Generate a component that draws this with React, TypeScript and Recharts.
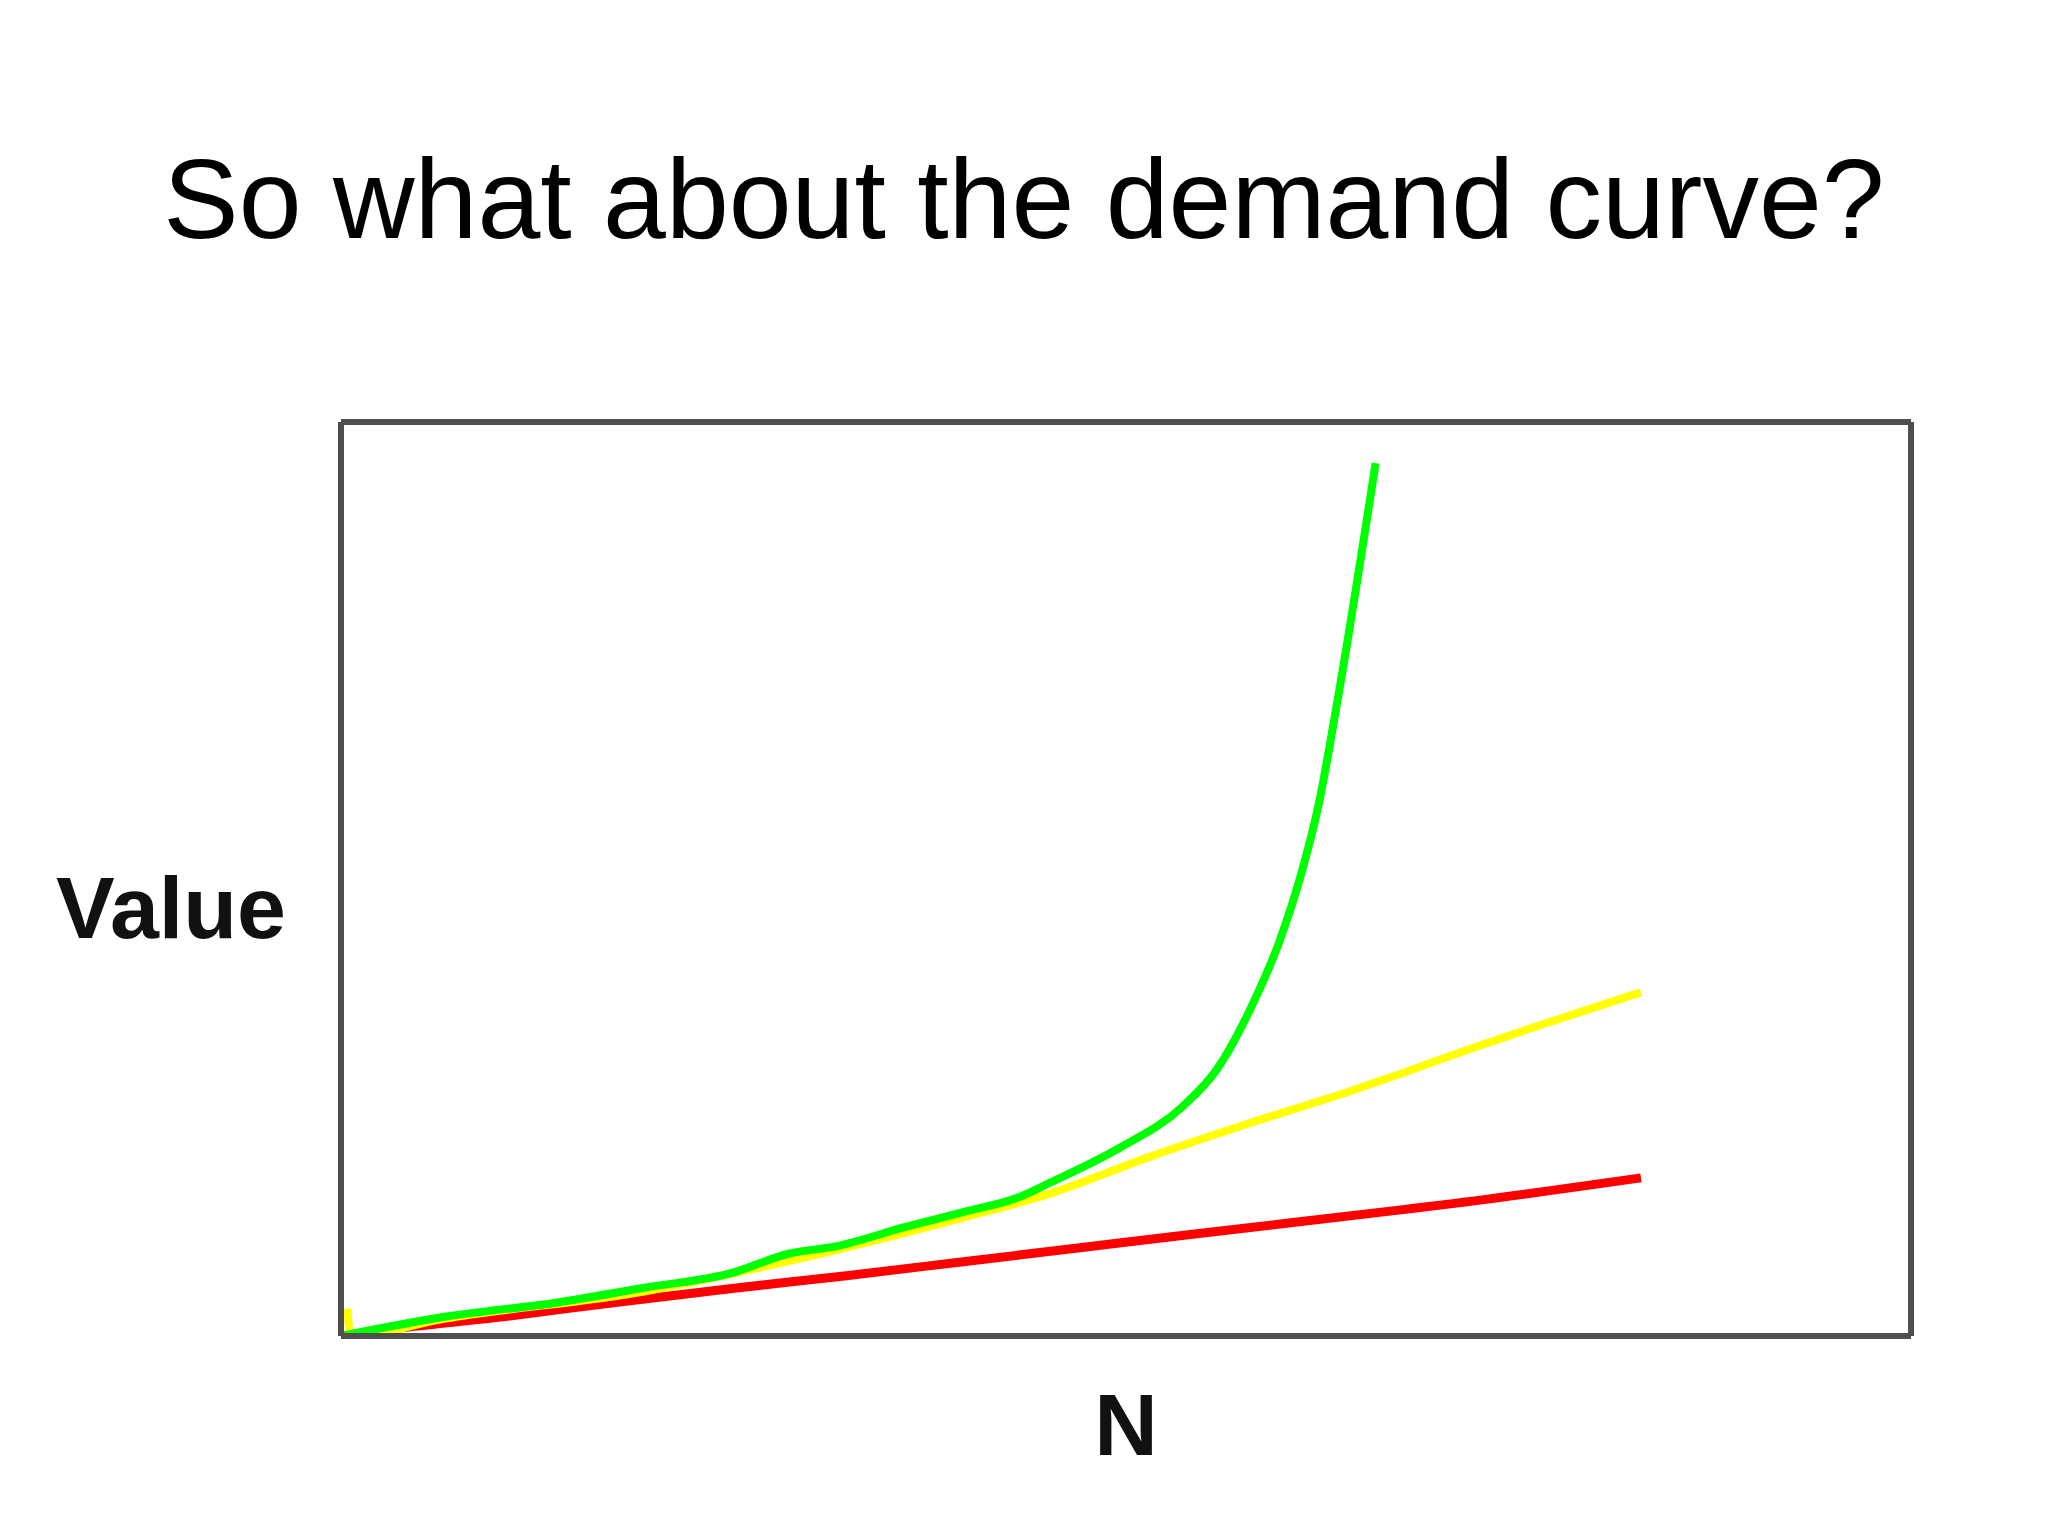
import { LineChart, Line, XAxis, YAxis, Label } from 'recharts';

const titleText = 'So what about the demand curve?';
const yLabelText = 'Value';
const xLabelText = 'N';

// green curve: takes off steeply
const greenN = [0, 6.6, 13.9, 19.4, 24.9, 28.5, 31.5, 35.9, 39.5, 43.2, 45.2, 49.4, 53.6, 55.8, 57.9, 59.8, 61.2, 62.3, 63.4, 65.9];
const greenValue = [0, 2.1, 3.7, 5.3, 6.9, 9.0, 9.8, 11.9, 13.5, 15.2, 16.8, 20.4, 25.1, 29.2, 35.7, 43.3, 50.8, 58.4, 68.8, 95.5];

// yellow curve: follows green, then straight
const yellowN = [0.4, 0.6, 6.6, 19.4, 31.5, 39.5, 45.2, 51.5, 57.9, 64.3, 67.5, 70.4, 82.8];
const yellowValue = [3.0, 0, 1.9, 4.9, 9.4, 12.9, 15.6, 19.6, 23.3, 26.8, 28.7, 30.5, 37.6];

// red curve: slow, almost linear
const redN = [0, 2.9, 10.3, 17.6, 24.9, 32.2, 39.5, 46.8, 54.1, 67.5, 70.4, 82.8];
const redValue = [0, 0.7, 2.1, 3.7, 5.2, 6.6, 8.1, 9.6, 11.1, 13.8, 14.4, 17.3];

const toRows = (xs: number[], ys: number[]) => xs.map((n, i) => ({ n, value: ys[i] }));

const greenData = toRows(greenN, greenValue);
const yellowData = toRows(yellowN, yellowValue);
const redData = toRows(redN, redValue);

const frame = '#4f4f4f';
const font = '"Liberation Sans", Arial, Helvetica, sans-serif';

function TitleLabel(props: any) {
  const { viewBox } = props;
  return (
    <text x={1024} y={viewBox.y - 183} textAnchor="middle" fontFamily={font} fontSize={113} fill="#000">
      {titleText}
    </text>
  );
}

function ValueLabel(props: any) {
  const { viewBox } = props;
  return (
    <text
      x={viewBox.x - 54}
      y={viewBox.y + viewBox.height / 2 + 59}
      textAnchor="end"
      fontFamily={font}
      fontWeight="bold"
      fontSize={88}
      fill="#111"
    >
      {yLabelText}
    </text>
  );
}

function NLabel(props: any) {
  const { viewBox } = props;
  return (
    <text
      x={viewBox.x + viewBox.width / 2}
      y={viewBox.y + 119}
      textAnchor="middle"
      fontFamily={font}
      fontWeight="bold"
      fontSize={88}
      fill="#111"
    >
      {xLabelText}
    </text>
  );
}

export default function App() {
  return (
    <div style={{ position: 'absolute', left: 0, top: 0, width: 2048, height: 1536, background: '#fff' }}>
      <LineChart width={2048} height={1536} margin={{ top: 421, right: 136, bottom: 199, left: 340 }}>
        <XAxis
          xAxisId="bottom"
          dataKey="n"
          type="number"
          domain={[0, 100]}
          allowDataOverflow
          height={1}
          tick={false}
          tickLine={false}
          axisLine={{ stroke: frame, strokeWidth: 6 }}
        >
          <Label content={NLabel} />
        </XAxis>
        <XAxis
          xAxisId="top"
          orientation="top"
          dataKey="n"
          type="number"
          domain={[0, 100]}
          height={1}
          tick={false}
          tickLine={false}
          axisLine={{ stroke: frame, strokeWidth: 6 }}
        >
          <Label content={TitleLabel} />
        </XAxis>
        <YAxis
          yAxisId="left"
          type="number"
          domain={[0, 100]}
          allowDataOverflow
          width={1}
          tick={false}
          tickLine={false}
          axisLine={{ stroke: frame, strokeWidth: 6 }}
        >
          <Label content={ValueLabel} />
        </YAxis>
        <YAxis
          yAxisId="right"
          orientation="right"
          type="number"
          domain={[0, 100]}
          width={1}
          tick={false}
          tickLine={false}
          axisLine={{ stroke: frame, strokeWidth: 6 }}
        />
        <Line
          xAxisId="bottom"
          yAxisId="left"
          data={redData}
          dataKey="value"
          type="monotone"
          stroke="#ff0000"
          strokeWidth={9}
          dot={false}
          isAnimationActive={false}
        />
        <Line
          xAxisId="bottom"
          yAxisId="left"
          data={yellowData}
          dataKey="value"
          type="monotone"
          stroke="#ffff00"
          strokeWidth={8}
          dot={false}
          isAnimationActive={false}
        />
        <Line
          xAxisId="bottom"
          yAxisId="left"
          data={greenData}
          dataKey="value"
          type="monotone"
          stroke="#00ff00"
          strokeWidth={8}
          dot={false}
          isAnimationActive={false}
        />
      </LineChart>
    </div>
  );
}
